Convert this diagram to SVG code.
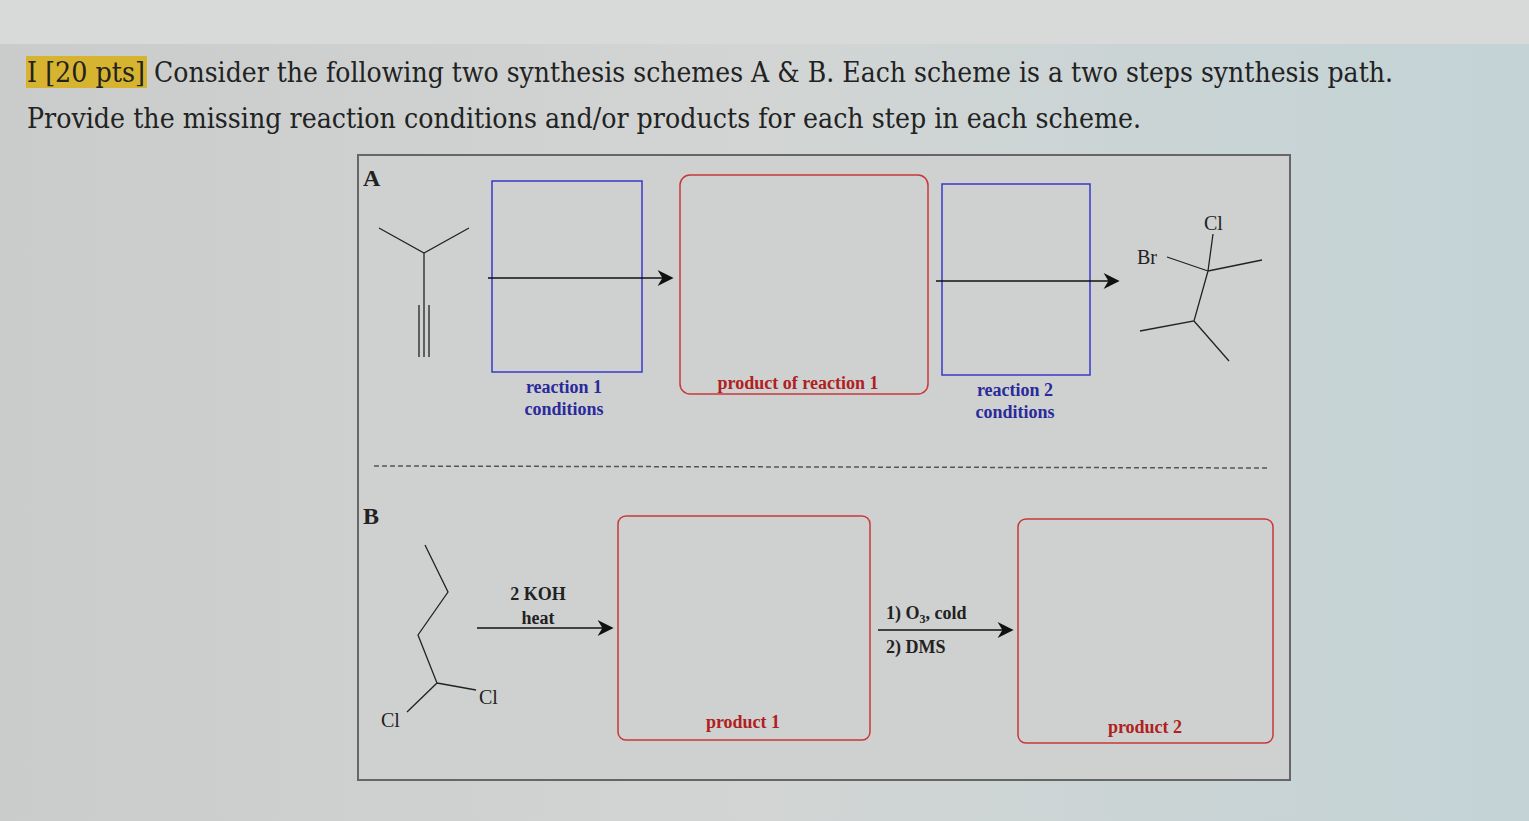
<svg xmlns="http://www.w3.org/2000/svg" width="1529" height="821" viewBox="0 0 1529 821">
<defs>
<linearGradient id="bg" x1="0" y1="0" x2="1" y2="0">
<stop offset="0" stop-color="#c9ccca"/><stop offset="0.5" stop-color="#d2d5d4"/><stop offset="1" stop-color="#c3d3d6"/>
</linearGradient>
<marker id="ahA" viewBox="0 0 10 10" refX="9" refY="5" markerWidth="24" markerHeight="16" markerUnits="userSpaceOnUse" orient="auto">
<path d="M0,0 L10,5 L0,10 L3,5 z" fill="#111"/>
</marker>
</defs>
<style>
.t{font-family:"DejaVu Serif","Liberation Serif",serif;fill:#222}
.h{font-size:27px}
.l{font-family:"Liberation Serif",serif;font-weight:bold;font-size:18px;text-anchor:middle}
.blue{fill:#2a2a9a}.red{fill:#b02020}
.bbox{fill:none;stroke:#3838c8;stroke-width:1.5}
.rbox{fill:none;stroke:#c83838;stroke-width:1.5}
.bond{stroke:#222;stroke-width:1.3;fill:none}
.arr{stroke:#111;stroke-width:1.5;fill:none}
.atom{font-family:"Liberation Serif",serif;font-size:20px;fill:#222}
</style>
<rect width="1529" height="821" fill="url(#bg)"/>
<rect x="0" y="0" width="1529" height="44" fill="#d8dad9"/>
<rect x="26" y="56" width="121" height="32" fill="#d6b430"/>
<text class="t h" x="27" y="82"><tspan textLength="118" lengthAdjust="spacingAndGlyphs">I [20 pts]</tspan><tspan x="154" textLength="1239" lengthAdjust="spacingAndGlyphs">Consider the following two synthesis schemes A &amp; B. Each scheme is a two steps synthesis path.</tspan></text>
<text class="t h" x="27" y="128" textLength="1114" lengthAdjust="spacingAndGlyphs">Provide the missing reaction conditions and/or products for each step in each scheme.</text>
<rect x="358" y="155" width="932" height="625" fill="#cfd1d0" stroke="#666" stroke-width="2"/>
<text x="363" y="186" font-size="24" font-weight="bold" font-family="Liberation Serif,serif" fill="#222">A</text>
<text x="363" y="524" font-size="24" font-weight="bold" font-family="Liberation Serif,serif" fill="#222">B</text>
<line x1="374" y1="466" x2="1268" y2="468" stroke="#555" stroke-width="1.5" stroke-dasharray="5,3"/>
<g id="molA1" class="bond">
<path d="M379,228 L424,253 L469,228 M424,253 L424,305"/>
<path d="M419,305 L419,357 M424,305 L424,357 M429,305 L429,357"/>
</g>
<g id="box1"><rect class="bbox" x="492" y="181" width="150" height="191"/>
<text class="l blue" x="564" y="393">reaction 1</text><text class="l blue" x="564" y="415">conditions</text></g>
<g id="prodA"><rect class="rbox" x="680" y="175" width="248" height="219" rx="10"/>
<text class="l red" x="798" y="389">product of reaction 1</text></g>
<g id="box2"><rect class="bbox" x="942" y="184" width="148" height="191"/>
<text class="l blue" x="1015" y="396">reaction 2</text><text class="l blue" x="1015" y="418">conditions</text></g>
<g id="molA2">
<path class="bond" d="M1167,257 L1208,271 L1213,234 M1208,271 L1262,260 M1208,271 L1194,321 L1140,331 M1194,321 L1229,361"/>
<text class="atom" x="1137" y="264">Br</text><text class="atom" x="1204" y="230">Cl</text>
</g>
<g id="molB">
<path class="bond" d="M425,545 L448,592 L418,635 L437,683 L407,712 M437,683 L476,690"/>
<text class="atom" x="381" y="727">Cl</text><text class="atom" x="479" y="704" font-size="26">Cl</text>
</g>
<g id="prod1"><rect class="rbox" x="618" y="516" width="252" height="224" rx="8"/>
<text class="l red" x="743" y="728">product 1</text></g>
<g id="prod2"><rect class="rbox" x="1018" y="519" width="255" height="224" rx="8"/>
<text class="l red" x="1145" y="733">product 2</text></g>
<g id="labels" font-family="Liberation Serif,serif" fill="#222">
<text x="538" y="600" class="l">2 KOH</text>
<text x="538" y="624" class="l">heat</text>
<text x="886" y="619" font-size="18" font-weight="bold">1) O<tspan font-size="12" dy="4">3</tspan><tspan dy="-4">, cold</tspan></text>
<text x="886" y="653" font-size="18" font-weight="bold">2) DMS</text>
</g>
<g id="connectors">
<line class="arr" x1="488" y1="278" x2="672" y2="278" marker-end="url(#ahA)"/>
<line class="arr" x1="936" y1="281" x2="1118" y2="281" marker-end="url(#ahA)"/>
<line class="arr" x1="477" y1="628" x2="612" y2="628" marker-end="url(#ahA)"/>
<line class="arr" x1="878" y1="630" x2="1012" y2="630" marker-end="url(#ahA)"/>
</g>
</svg>
